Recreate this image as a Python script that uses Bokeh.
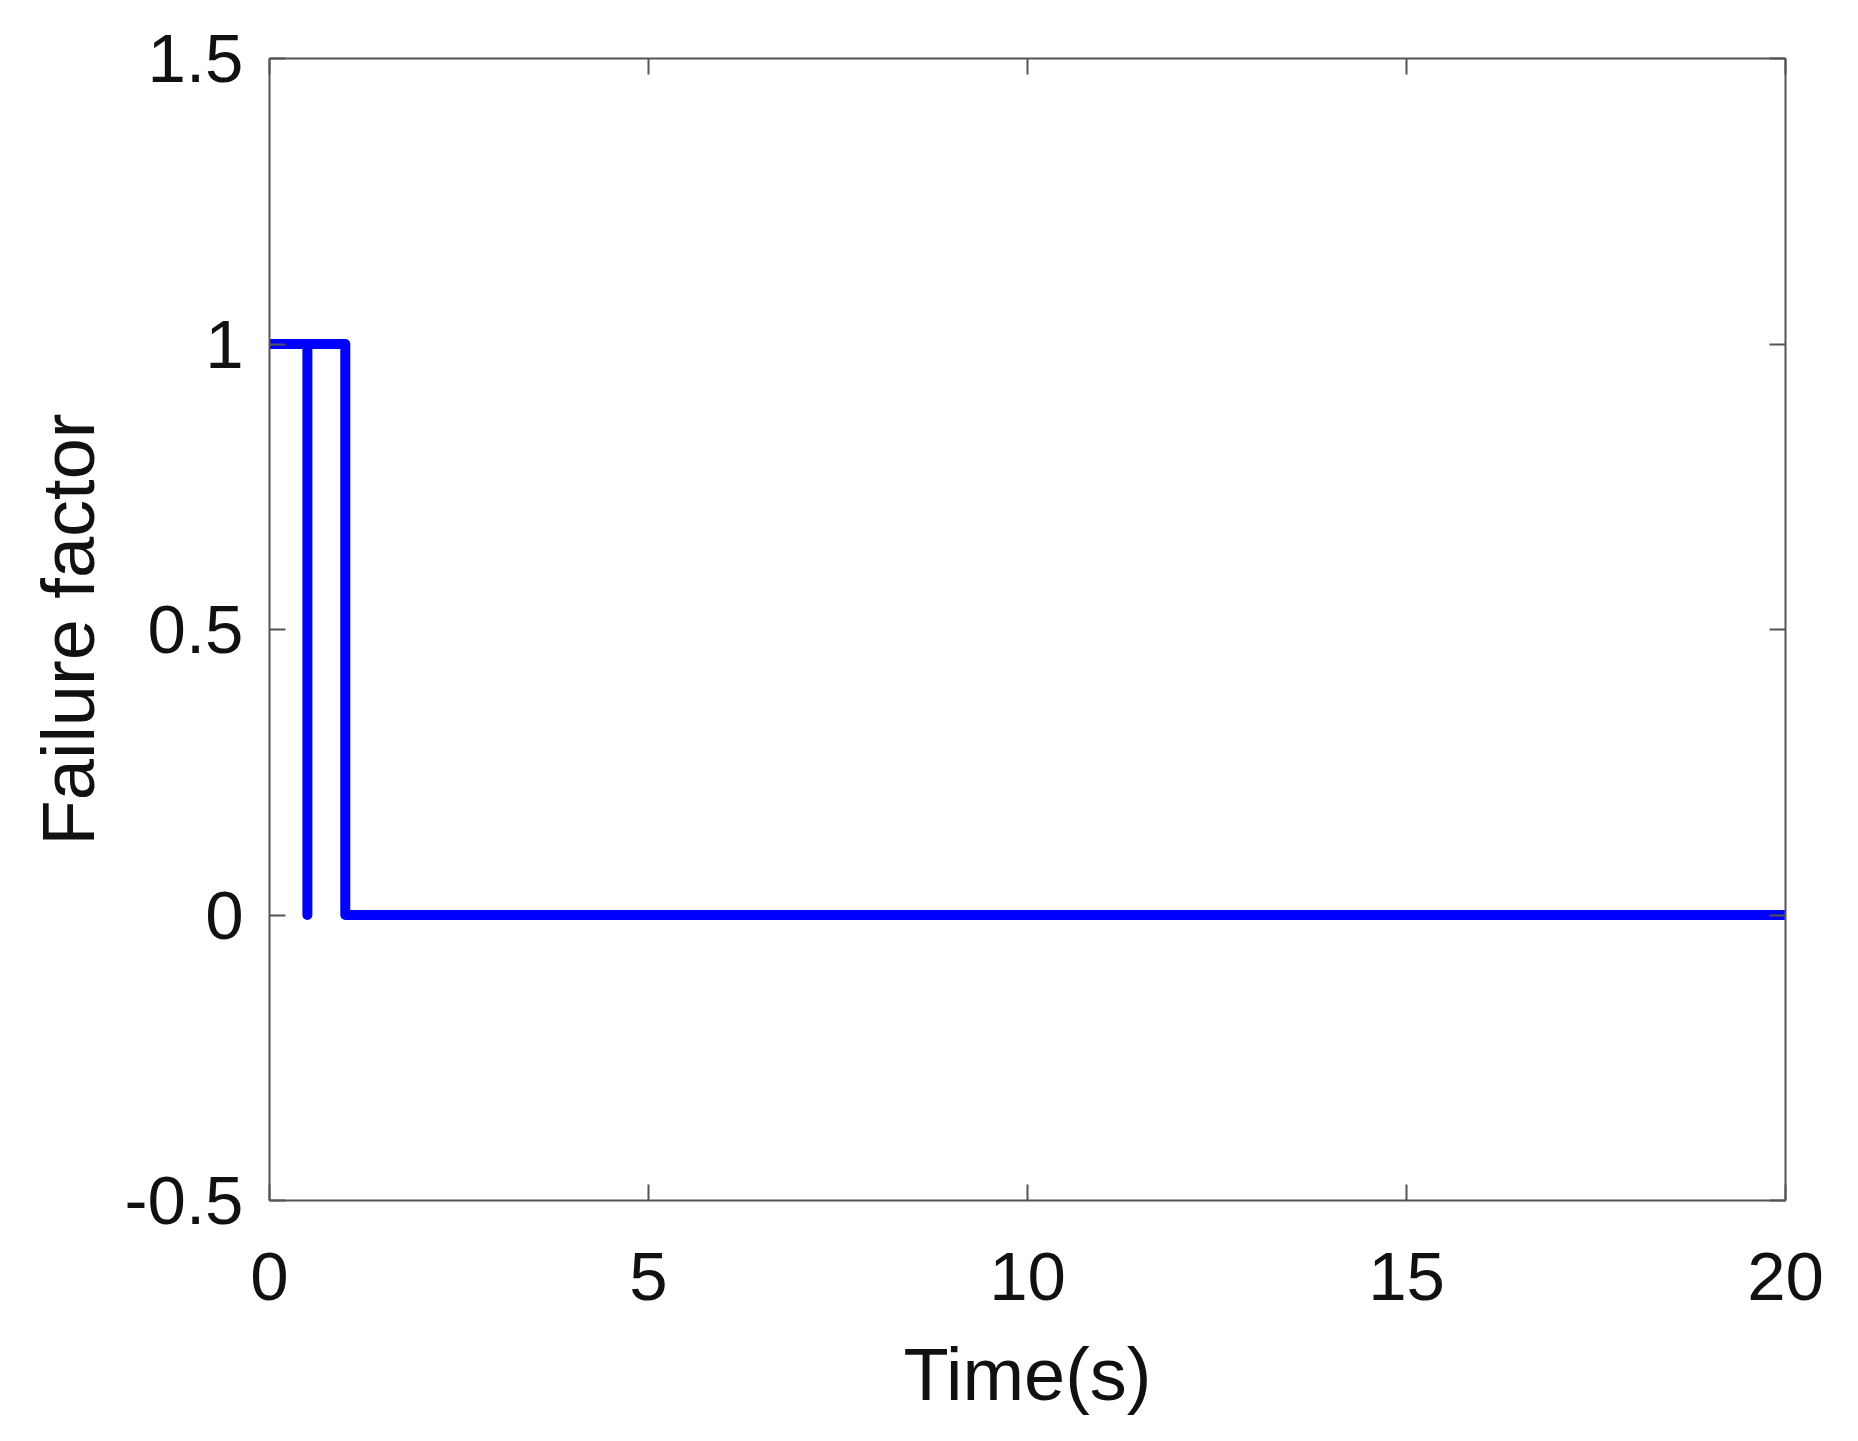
from bokeh.plotting import figure
from bokeh.models import LinearAxis, FixedTicker, ColumnDataSource, Range1d
from bokeh.embed import file_html
from bokeh.resources import INLINE

# data
time_s = [0, 0.5, 0.5, 0.5, 1, 1, 20]
failure_factor = [1, 1, 0, 1, 1, 0, 0]

x_ticks = [0, 5, 10, 15, 20]
x_tick_labels = ["0", "5", "10", "15", "20"]
y_ticks = [-0.5, 0, 0.5, 1, 1.5]
y_tick_labels = ["-0.5", "0", "0.5", "1", "1.5"]

FONT = "Liberation Sans"
AX = "#555555"

p = figure(frame_width=1516, frame_height=1142,
           x_range=Range1d(0, 20), y_range=Range1d(-0.5, 1.5),
           output_backend="svg", toolbar_location=None,
           min_border_left=269, min_border_right=46,
           min_border_top=58, min_border_bottom=210,
           background_fill_color="white", border_fill_color="white")
p.outline_line_color = None
p.grid.visible = False

src = ColumnDataSource(dict(t=time_s, f=failure_factor))
p.line("t", "f", source=src, line_color="#0000FF", line_width=10,
       line_join="round", line_cap="round")

def style(ax, ticks, labels, show_labels):
    ax.ticker = FixedTicker(ticks=ticks)
    ax.axis_line_color = AX
    ax.axis_line_width = 2
    ax.major_tick_line_color = AX
    ax.major_tick_line_width = 2
    ax.major_tick_in = 16
    ax.major_tick_out = 0
    ax.minor_tick_line_color = None
    ax.major_label_text_font = FONT
    ax.major_label_text_color = "#111111"
    if show_labels:
        ax.major_label_overrides = {t: l for t, l in zip(ticks, labels)}
        ax.major_label_text_font_size = "69px"
    else:
        ax.major_label_overrides = {t: "" for t in ticks}
        ax.major_label_text_font_size = "10px"
        ax.major_label_standoff = 0

xa = p.xaxis[0]
ya = p.yaxis[0]
style(xa, x_ticks, x_tick_labels, True)
style(ya, y_ticks, y_tick_labels, True)
xa.major_label_standoff = 52
ya.major_label_standoff = 26
xa.axis_label = "Time(s)"
ya.axis_label = "Failure factor"
for a in (xa, ya):
    a.axis_label_text_font = FONT
    a.axis_label_text_font_size = "74px"
    a.axis_label_text_font_style = "normal"
    a.axis_label_text_color = "#111111"
xa.axis_label_standoff = 30
ya.axis_label_standoff = 12

top = LinearAxis()
style(top, x_ticks, x_tick_labels, False)
p.add_layout(top, "above")
right = LinearAxis()
style(right, y_ticks, y_tick_labels, False)
p.add_layout(right, "right")

open("out.html", "w").write(file_html(p, INLINE))
